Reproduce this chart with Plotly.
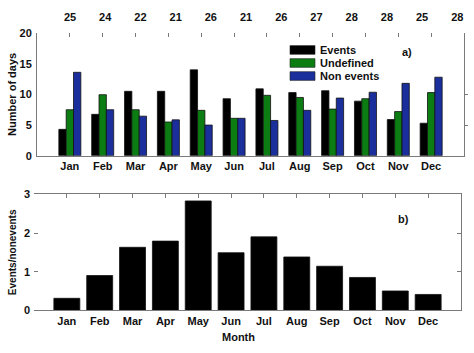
import plotly.graph_objects as go

months = ["Jan", "Feb", "Mar", "Apr", "May", "Jun", "Jul", "Aug", "Sep", "Oct", "Nov", "Dec"]
top_counts = ["25", "24", "22", "21", "26", "21", "26", "27", "28", "28", "25", "28"]
events = [4.3, 6.75, 10.5, 10.5, 14.0, 9.3, 10.9, 10.3, 10.6, 8.9, 5.9, 5.3]
undefined = [7.5, 9.95, 7.5, 5.5, 7.4, 6.1, 9.85, 9.5, 7.6, 9.3, 7.2, 10.3]
non_events = [13.6, 7.5, 6.45, 5.85, 5.0, 6.1, 5.75, 7.4, 9.4, 10.35, 11.8, 12.8]
ratio = [0.31, 0.90, 1.63, 1.79, 2.83, 1.49, 1.90, 1.38, 1.14, 0.85, 0.50, 0.41]
series_names = ["Events", "Undefined", "Non events"]
series_colors = ["#000000", "#0b7d12", "#1b2f9c"]

FONT = dict(family="Liberation Sans, Arial, sans-serif", size=11, color="#111", weight="bold")
GRAY = "#7a7a7a"
W, H = 474, 353
idx = list(range(len(months)))

fig = go.Figure()
for name, vals, col in zip(series_names, [events, undefined, non_events], series_colors):
    fig.add_trace(go.Bar(x=idx, y=vals, name=name, showlegend=False,
                         marker=dict(color=col, line=dict(color="#111", width=0.8)),
                         xaxis="x", yaxis="y"))

fig.add_trace(go.Bar(x=idx, y=ratio, name="Events/nonevents", showlegend=False, width=0.79,
                     marker=dict(color="#000000", line=dict(color="#111", width=0.8)),
                     xaxis="x2", yaxis="y2"))

# empty helper traces so the overlay (frame) axes get drawn
for xa, ya in [("x3", "y"), ("x5", "y"), ("x", "y3"), ("x4", "y2"), ("x2", "y4")]:
    fig.add_trace(go.Scatter(x=[None], y=[None], mode="markers", showlegend=False,
                             hoverinfo="skip", xaxis=xa, yaxis=ya))

top_dom_x = [37 / W, 464 / W]
top_dom_y = [1 - 155 / H, 1 - 28 / H]
bot_dom_x = [34 / W, 461 / W]
bot_dom_y = [1 - 315 / H, 1 - 195 / H]

# custom legend (swatches + labels) in paper coordinates
shapes = []
annotations = []
row_y = [45.5, 59, 72.5]
for name, col, ry in zip(series_names, series_colors, row_y):
    shapes.append(dict(type="rect", xref="paper", yref="paper",
                       x0=290 / W, x1=315 / W, y0=1 - (ry + 4.5) / H, y1=1 - (ry - 4.5) / H,
                       fillcolor=col, line=dict(color="#222", width=0.6)))
    annotations.append(dict(text=name, x=318 / W, y=1 - ry / H, xref="paper", yref="paper",
                            xanchor="left", yanchor="middle", showarrow=False, font=FONT))

annotations += [
    dict(text="a)", x=407 / W, y=1 - 48 / H, xref="paper", yref="paper", xanchor="center",
         yanchor="middle", showarrow=False, font=FONT),
    dict(text="b)", x=403 / W, y=1 - 220 / H, xref="paper", yref="paper", xanchor="center",
         yanchor="middle", showarrow=False, font=FONT),
    dict(text="Month", x=238 / W, y=1 - 343 / H, xref="paper", yref="paper", xanchor="center",
         yanchor="middle", showarrow=False, font=FONT),
]

fig.update_layout(
    width=W, height=H,
    margin=dict(l=0, r=0, t=0, b=0),
    paper_bgcolor="white", plot_bgcolor="white",
    font=FONT,
    barmode="group", bargap=0.33, bargroupgap=0,
    showlegend=False,
    shapes=shapes,
    annotations=annotations,
    xaxis=dict(domain=top_dom_x, anchor="y", range=[-1, 12], tickvals=idx, ticktext=months,
               showline=True, linecolor=GRAY, linewidth=1, ticks="", showgrid=False, zeroline=False,
               ticklabelstandoff=0),
    yaxis=dict(domain=top_dom_y, anchor="x", range=[0, 20], tickvals=[0, 5, 10, 15, 20],
               showline=True, linecolor=GRAY, linewidth=1, ticks="", showgrid=False, zeroline=False,
               title=dict(text="Number of days", font=FONT, standoff=0), ticklabelstandoff=2),
    xaxis3=dict(overlaying="x", anchor="y", side="top", range=[-1, 12], tickvals=idx,
                showticklabels=False, ticks="inside", ticklen=4, tickcolor=GRAY,
                showline=False, showgrid=False, zeroline=False),
    xaxis5=dict(overlaying="x", anchor="y", side="top", range=[-0.9375, 11.19], tickvals=idx,
                ticktext=top_counts, ticks="", showline=False, showgrid=False, zeroline=False,
                ticklabelstandoff=9),
    yaxis3=dict(overlaying="y", anchor="x", side="right", range=[0, 20], tickvals=[5, 10],
                showticklabels=False, ticks="outside", ticklen=3, tickcolor=GRAY,
                showline=True, linecolor=GRAY, linewidth=1, showgrid=False, zeroline=False),
    xaxis2=dict(domain=bot_dom_x, anchor="y2", range=[-1, 12], tickvals=idx, ticktext=months,
                showline=True, linecolor=GRAY, linewidth=1, ticks="", showgrid=False, zeroline=False,
                ticklabelstandoff=1),
    yaxis2=dict(domain=bot_dom_y, anchor="x2", range=[0, 3], tickvals=[0, 1, 2, 3],
                showline=False, ticks="inside", ticklen=4, tickcolor=GRAY, showgrid=False, zeroline=False,
                title=dict(text="Events/nonevents", font=dict(FONT, size=10), standoff=5), ticklabelstandoff=3),
    xaxis4=dict(overlaying="x2", anchor="y2", side="top", range=[-1, 12], tickvals=idx,
                showticklabels=False, ticks="inside", ticklen=4, tickcolor=GRAY,
                showline=True, linecolor=GRAY, linewidth=1, showgrid=False, zeroline=False),
    yaxis4=dict(overlaying="y2", anchor="x2", side="right", range=[0, 3], tickvals=[1, 2],
                showticklabels=False, ticks="inside", ticklen=4, tickcolor=GRAY,
                showline=True, linecolor=GRAY, linewidth=1, showgrid=False, zeroline=False),
)

fig.write_html("out.html")
